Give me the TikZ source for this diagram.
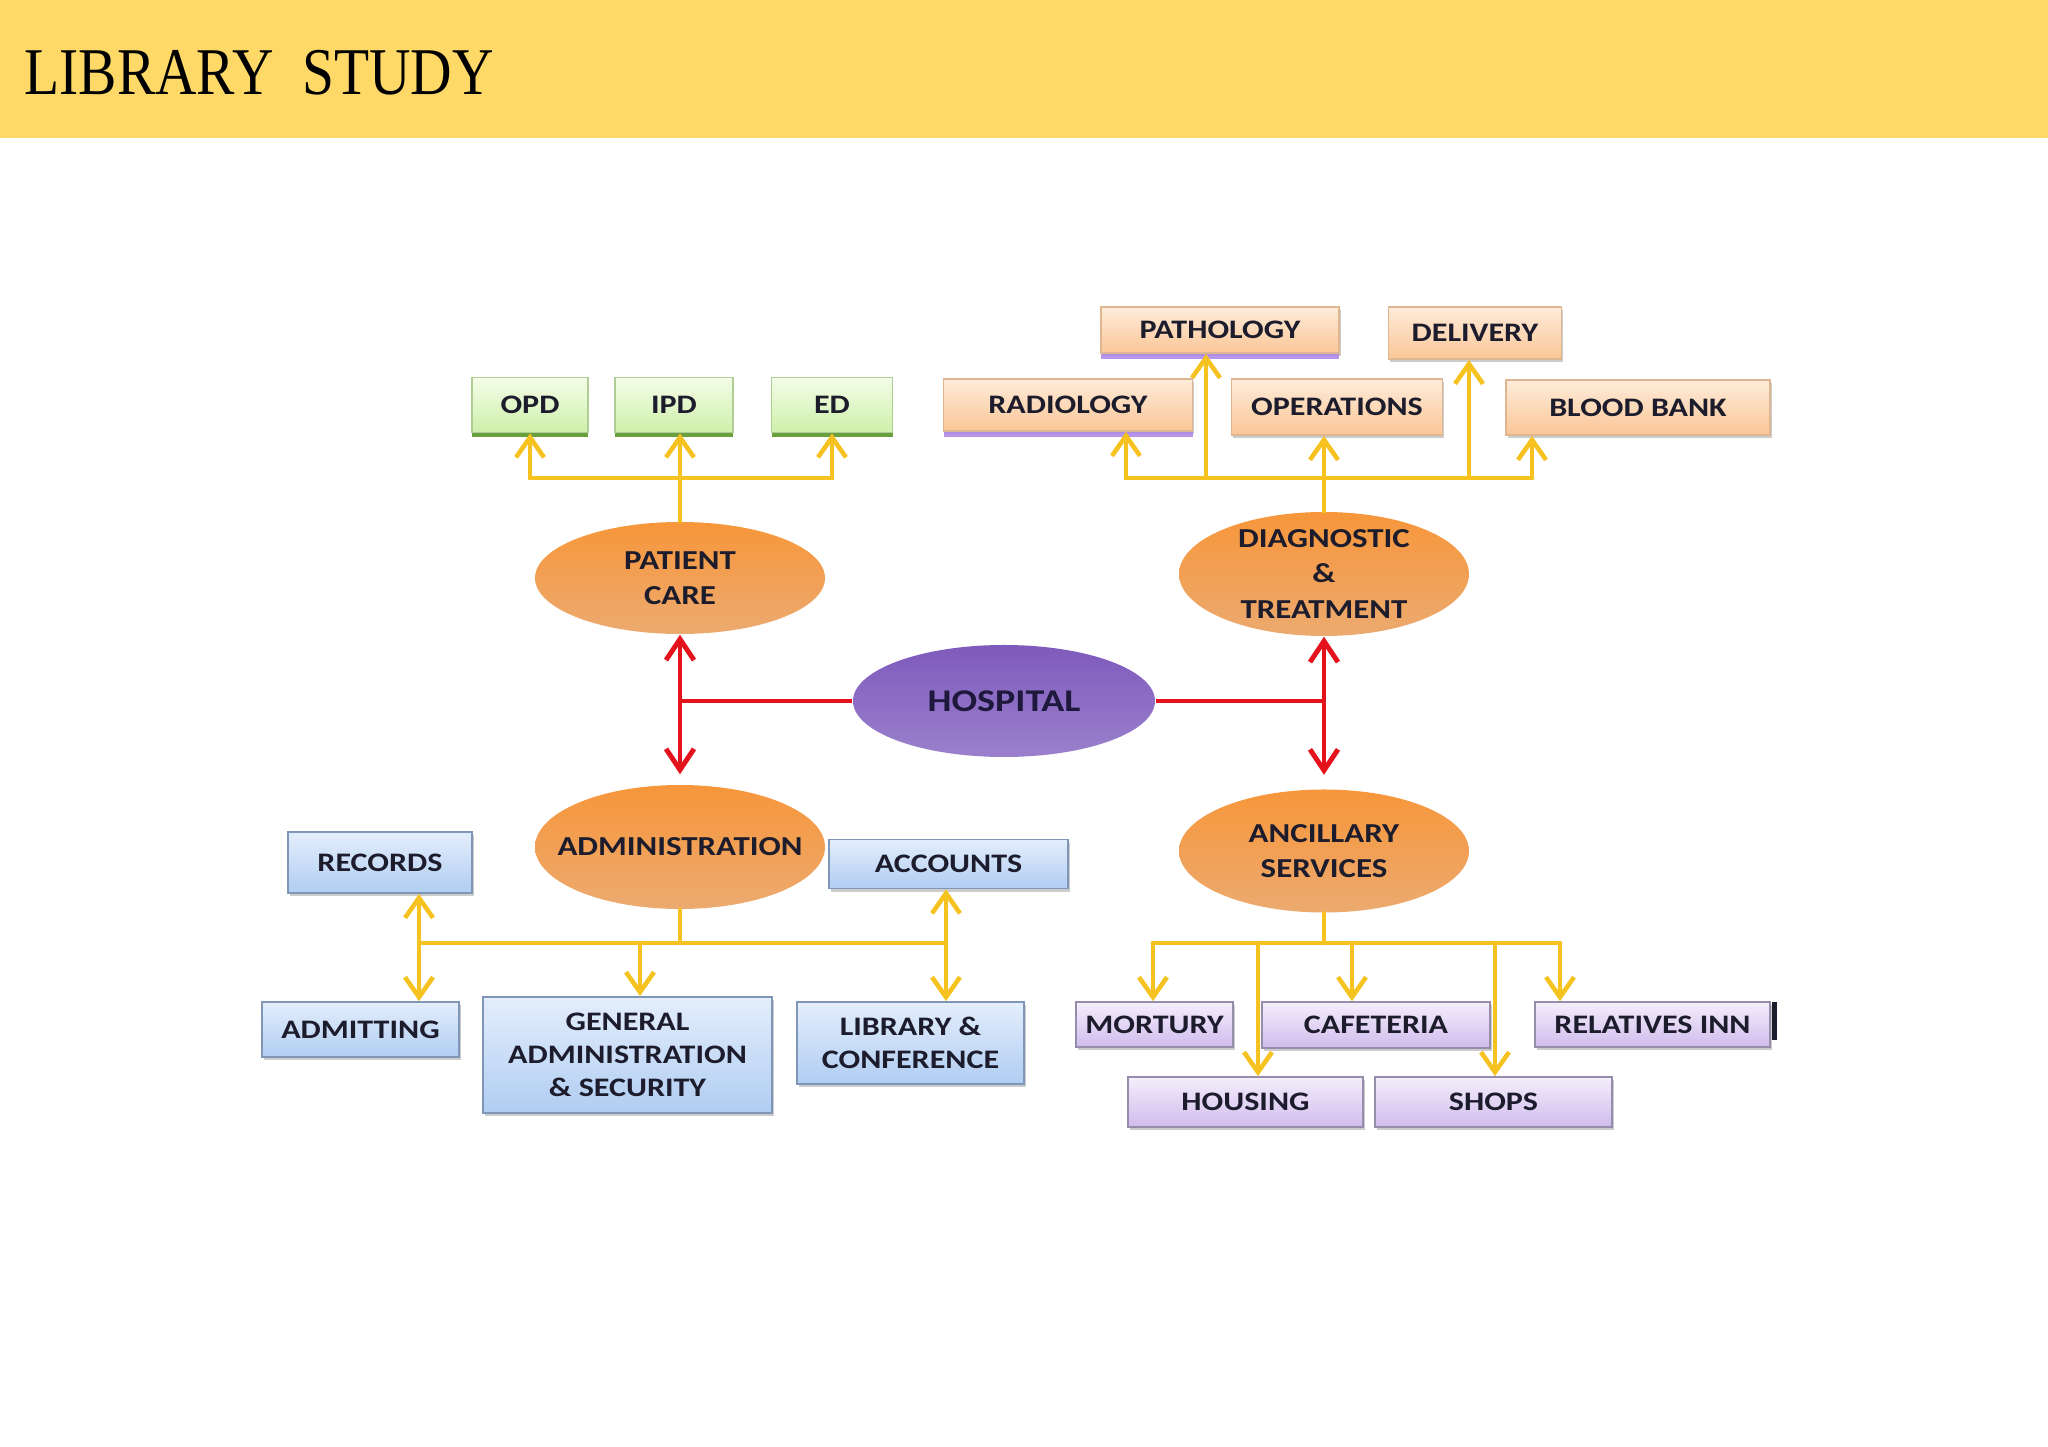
\documentclass[tikz,border=0pt]{standalone}
\usepackage{fontspec}
\setmainfont{Liberation Serif}
\newfontfamily\diagfont[FakeStretch=1.2]{Carlito}
\usepackage{graphicx}
\usepackage{tikz}
\usetikzlibrary{shapes.geometric, arrows.meta, positioning, calc, shadows}
\definecolor{bandyellow}{RGB}{255,217,104}
\definecolor{txtdark}{RGB}{28,28,44}
\definecolor{ellorange}{RGB}{247,150,58}
\definecolor{ellbeige}{RGB}{236,170,112}
\definecolor{hosptop}{RGB}{126,90,188}
\definecolor{hospbot}{RGB}{154,128,204}
\definecolor{grntop}{RGB}{244,253,232}
\definecolor{grnbot}{RGB}{206,240,170}
\definecolor{grnedge}{RGB}{176,205,150}
\definecolor{grndark}{RGB}{104,160,60}
\definecolor{peachtop}{RGB}{254,236,218}
\definecolor{peachbot}{RGB}{250,198,150}
\definecolor{peachedge}{RGB}{222,182,146}
\definecolor{bluetop}{RGB}{228,238,252}
\definecolor{bluebot}{RGB}{176,205,242}
\definecolor{blueedge}{RGB}{128,150,182}
\definecolor{lavtop}{RGB}{244,238,252}
\definecolor{lavbot}{RGB}{208,188,236}
\definecolor{lavedge}{RGB}{150,140,172}
\definecolor{shadepurple}{RGB}{170,130,230}
\definecolor{arrowgold}{RGB}{246,194,32}
\definecolor{arrowred}{RGB}{228,18,28}
\tikzset{
  box/.style={rectangle, inner sep=1pt, align=center, text=txtdark,
    font=\diagfont\bfseries\fontsize{7.6}{9.4}\selectfont, line width=0.5pt},
  grnbox/.style={box, top color=grntop, bottom color=grnbot, draw=grnedge,
    drop shadow={shadow xshift=0pt, shadow yshift=-1.3pt, fill=grndark, opacity=1}},
  peachbox/.style={box, top color=peachtop, bottom color=peachbot, draw=peachedge,
    drop shadow={shadow xshift=0.5pt, shadow yshift=-0.8pt, fill=black, opacity=0.2}},
  purpline/.style={drop shadow={shadow xshift=0pt, shadow yshift=-1.6pt, fill=shadepurple, opacity=0.85}},
  bluebox/.style={box, top color=bluetop, bottom color=bluebot, draw=blueedge,
    drop shadow={shadow xshift=0.6pt, shadow yshift=-0.9pt, fill=black, opacity=0.2}},
  lavbox/.style={box, top color=lavtop, bottom color=lavbot, draw=lavedge,
    drop shadow={shadow xshift=0.6pt, shadow yshift=-0.9pt, fill=black, opacity=0.2}},
  ell/.style={ellipse, inner sep=0pt, top color=ellorange, bottom color=ellbeige},
  elltext/.style={align=center, text=txtdark,
    font=\diagfont\bfseries\fontsize{7.8}{10}\selectfont},
  hospell/.style={ellipse, inner sep=0pt, top color=hosptop, bottom color=hospbot,
    text={rgb,255:red,30;green,24;blue,60}, font=\diagfont\bfseries\fontsize{9}{11}\selectfont},
  yline/.style={line width=1.3pt, draw=arrowgold, line cap=round, line join=round},
  yarrow/.style={yline, -{Straight Barb[length=2mm, width=2.8mm]}},
  ydouble/.style={yline, {Straight Barb[length=2mm, width=2.8mm]}-{Straight Barb[length=2mm, width=2.8mm]}},
  rline/.style={line width=1.4pt, draw=arrowred},
  rdouble/.style={rline, {Straight Barb[length=2.1mm, width=2.8mm]}-{Straight Barb[length=2.1mm, width=2.8mm]}}
}

\begin{document}
\begin{tikzpicture}
  \useasboundingbox (0,0) rectangle (20.48,-14.47);
  % Header
  \fill[bandyellow] (0,0) rectangle (20.48,-1.38);
  \node[anchor=base west, inner sep=0pt, font=\fontsize{19}{22}\selectfont] (ttl) at (0.24,-0.95)
    {\scalebox{0.86}[1]{LIBRARY\hspace{0.5em}STUDY}};

  % Ellipses
  \node[hospell, minimum width=3.02cm, minimum height=1.12cm] (hosp) at (10.04,-7.01) {HOSPITAL};
  \node[ell, minimum width=2.90cm, minimum height=1.12cm, label={[elltext]center:PATIENT\\CARE}] (pc) at (6.80,-5.78) {};
  \node[ell, minimum width=2.90cm, minimum height=1.24cm, label={[elltext]center:DIAGNOSTIC\\\&\\TREATMENT}] (dt) at (13.24,-5.74) {};
  \node[ell, minimum width=2.90cm, minimum height=1.24cm, label={[elltext]center:ADMINISTRATION}] (adm) at (6.80,-8.47) {};
  \node[ell, minimum width=2.90cm, minimum height=1.23cm, label={[elltext]center:ANCILLARY\\SERVICES}] (anc) at (13.24,-8.51) {};

  % Patient care boxes
  \node[grnbox, minimum width=1.16cm, minimum height=0.55cm] (opd) at (5.30,-4.05) {OPD};
  \node[grnbox, minimum width=1.18cm, minimum height=0.55cm] (ipd) at (6.74,-4.05) {IPD};
  \node[grnbox, minimum width=1.21cm, minimum height=0.55cm] (ed) at (8.32,-4.05) {ED};

  % Diagnostic boxes
  \node[peachbox, purpline, minimum width=2.38cm, minimum height=0.46cm] (path) at (12.20,-3.30) {PATHOLOGY};
  \node[peachbox, minimum width=1.73cm, minimum height=0.52cm] (deliv) at (14.75,-3.33) {DELIVERY};
  \node[peachbox, purpline, minimum width=2.49cm, minimum height=0.52cm] (rad) at (10.68,-4.05) {RADIOLOGY};
  \node[peachbox, minimum width=2.11cm, minimum height=0.56cm] (oper) at (13.37,-4.07) {OPERATIONS};
  \node[peachbox, minimum width=2.64cm, minimum height=0.55cm] (blood) at (16.38,-4.075) {BLOOD BANK};

  % Administration boxes
  \node[bluebox, minimum width=1.84cm, minimum height=0.61cm] (rec) at (3.80,-8.625) {RECORDS};
  \node[bluebox, minimum width=2.39cm, minimum height=0.49cm] (acc) at (9.485,-8.64) {ACCOUNTS};
  \node[bluebox, minimum width=1.97cm, minimum height=0.55cm] (adt) at (3.605,-10.295) {ADMITTING};
  \node[bluebox, minimum width=2.89cm, minimum height=1.16cm] (gen) at (6.275,-10.55) {GENERAL\\ADMINISTRATION\\\& SECURITY};
  \node[bluebox, minimum width=2.27cm, minimum height=0.82cm] (lib) at (9.105,-10.43) {LIBRARY \&\\CONFERENCE};

  % Ancillary boxes
  \node[lavbox, minimum width=1.57cm, minimum height=0.45cm] (mort) at (11.545,-10.245) {MORTURY};
  \node[lavbox, minimum width=2.28cm, minimum height=0.46cm] (caf) at (13.76,-10.25) {CAFETERIA};
  \node[lavbox, minimum width=2.35cm, minimum height=0.45cm] (rel) at (16.525,-10.245) {RELATIVES INN};
  \node[lavbox, minimum width=2.35cm, minimum height=0.50cm] (hous) at (12.455,-11.02) {HOUSING};
  \node[lavbox, minimum width=2.37cm, minimum height=0.50cm] (shop) at (14.935,-11.02) {SHOPS};
  \fill[txtdark] (17.72,-10.02) rectangle (17.77,-10.40);

  % Red links
  \draw[rline] (hosp.west) -- (hosp.west -| pc.south);
  \draw[rline] (hosp.east) -- (hosp.east -| dt.south);
  \draw[rdouble] (pc.south) -- ([yshift=0.1cm]adm.north);
  \draw[rdouble] (dt.south) -- ([yshift=0.14cm]anc.north);

  % Patient care branch
  \coordinate (pcbus) at (6.80,-4.78);
  \draw[yarrow] (pc.north) -- (pc.north |- ipd.south);
  \draw[yline] (pcbus -| opd.south) -- (pcbus -| ed.south);
  \foreach \n in {opd, ed} \draw[yarrow] (pcbus -| \n.south) -- (\n.south);

  % Diagnostic branch
  \coordinate (radx) at (11.26,-4.78);
  \coordinate (pathx) at (12.06,-4.78);
  \coordinate (operx) at (13.24,-4.78);
  \coordinate (delx) at (14.69,-4.78);
  \coordinate (bldx) at (15.32,-4.78);
  \draw[yline] (dt.north) -- (operx);
  \draw[yline] (radx) -- (bldx);
  \foreach \c/\n in {radx/rad, pathx/path, operx/oper, delx/deliv, bldx/blood}
    \draw[yarrow] (\c) -- (\c |- \n.south);

  % Administration branch
  \coordinate (recx) at (4.19,-9.43);
  \coordinate (genx) at (6.40,-9.43);
  \coordinate (accx) at (9.46,-9.43);
  \draw[yline] (adm.south) -- (adm.south |- recx);
  \draw[yline] (recx) -- (accx);
  \draw[ydouble] (recx |- rec.south) -- (recx |- adt.north);
  \draw[yarrow] (genx) -- (genx |- gen.north);
  \draw[ydouble] (accx |- acc.south) -- (accx |- lib.north);

  % Ancillary branch
  \coordinate (morx) at (11.53,-9.43);
  \coordinate (housx) at (12.58,-9.43);
  \coordinate (cafx) at (13.52,-9.43);
  \coordinate (shopx) at (14.95,-9.43);
  \coordinate (relx) at (15.60,-9.43);
  \draw[yline] (anc.south) -- (anc.south |- morx);
  \draw[yline] (morx) -- (relx);
  \foreach \c/\n in {morx/mort, housx/hous, cafx/caf, shopx/shop, relx/rel}
    \draw[yarrow] (\c) -- (\c |- \n.north);
\end{tikzpicture}
\end{document}
